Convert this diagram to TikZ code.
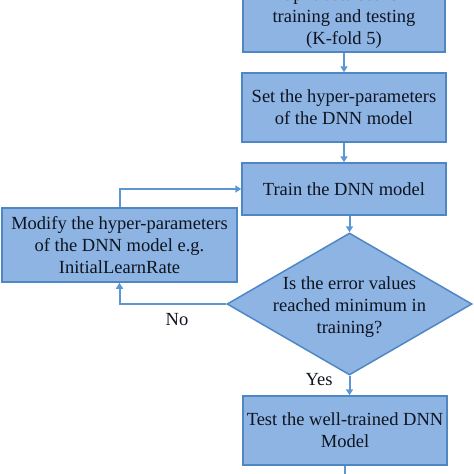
\documentclass[tikz,border=0pt]{standalone}
\usepackage{fontspec}
\setmainfont{Liberation Serif}
\usetikzlibrary{shapes.geometric,arrows.meta}
\definecolor{boxfill}{HTML}{8EB4E3}
\definecolor{boxline}{HTML}{4F87C5}
\definecolor{arrowline}{HTML}{5B97D2}
\definecolor{boxtext}{HTML}{0E1420}
\tikzset{
	stepbox/.style={draw=boxline, fill=boxfill, line width=1.5pt, align=center, text=boxtext, inner xsep=2pt, inner ysep=2pt},
	decision/.style={draw=boxline, fill=boxfill, line width=1.5pt, shape=diamond, inner sep=0pt},
	flowline/.style={draw=arrowline, line width=2pt, -{Triangle[length=6pt,width=7pt]}},
	flowtext/.style={text=boxtext}
}
\begin{document}
\begin{tikzpicture}[x=1pt, y=-1pt, font=\fontsize{18.5}{22}\selectfont]
		\useasboundingbox (0,0) rectangle (474,474);
		\clip (0,0) rectangle (474,474);
		\node[stepbox, minimum width=202pt, minimum height=68pt] (split) at (344,18) {Split data set for\\training and testing\\(K-fold 5)};
		\node[stepbox, minimum width=204pt, minimum height=69pt] (hyper) at (344,107.5) {Set the hyper-parameters\\of the DNN model};
		\node[stepbox, minimum width=204pt, minimum height=52pt] (train) at (344,189) {Train the DNN model};
		\node[decision, minimum width=245pt, minimum height=142pt,
			label={[align=center, text=boxtext, yshift=-3pt]center:{Is the error values\\reached minimum in\\training?}}] (check) at (349.5,304) {};
		\node[stepbox, minimum width=235pt, minimum height=74pt] (modify) at (119.5,245) {Modify the hyper-parameters\\of the DNN model e.g.\\InitialLearnRate};
		\node[stepbox, minimum width=204pt, minimum height=69pt] (test) at (345,430.5) {Test the well-trained DNN\\Model};
		\coordinate (tail) at (345,480);
		\draw[flowline] (split.south) -- (hyper.north);
		\draw[flowline] (hyper.south) -- (train.north);
		\draw[flowline] (train.south -| check.north) -- (check.north);
		\draw[flowline] (modify.north) |- (train.west);
		\draw[flowline] (check.west) -| (modify.south);
		\draw[flowline] (check.south) -- (check.south |- test.north);
		\draw[draw=arrowline, line width=2pt] (test.south) -- (test.south |- tail);
		\node[flowtext] (no) at (177,320) {No};
		\node[flowtext] (yes) at (319,380) {Yes};
	\end{tikzpicture}
\end{document}
